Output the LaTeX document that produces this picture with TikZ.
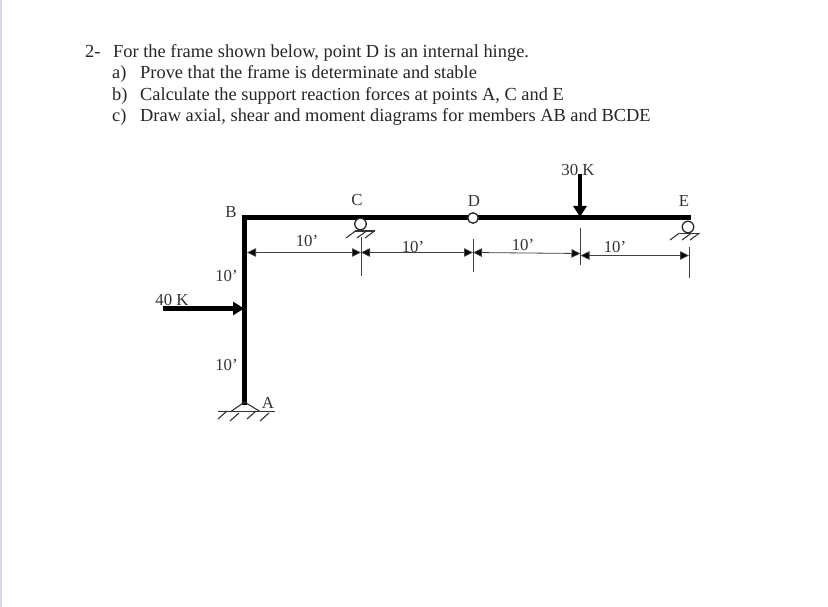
\documentclass[tikz,border=0pt]{standalone}
\usepackage{fontspec}
\setmainfont{Liberation Serif}
\usetikzlibrary{arrows.meta}
\tikzset{
	beam/.style={line width=5pt,line cap=rect,black},
	dimline/.style={line width=0.8pt,black!75,{Triangle[length=9pt,width=8.5pt,fill=black]}-{Triangle[length=9pt,width=8.5pt,fill=black]}},
	tickline/.style={line width=1pt,black!75},
	hatch/.style={line width=1.1pt,black!80},
	load/.style={line width=4.5pt,black,-{Triangle[length=11pt,width=13pt,inset=0pt]},shorten >=-1pt},
	hinge/.style={circle,draw=black!85,line width=1.3pt,fill=white,inner sep=0pt,minimum size=11.5pt},
	txt/.style={anchor=base west,inner sep=0pt,font=\fontsize{18.4}{20}\selectfont,black!85},
	lbl/.style={inner sep=0pt,font=\fontsize{16.8}{18}\selectfont,black!80}
}
\begin{document}
\begin{tikzpicture}[x=1pt,y=-1pt]
	\useasboundingbox (0,0) rectangle (828,607);
	\fill[white] (0,0) rectangle (828,607);
	\fill[blue!25!gray!25] (0,0) rectangle (2,607);
	% question text
	\node[txt] (q0) at (85,58) {2-};
	\node[txt] (q1) at (113,58) {For the frame shown below, point D is an internal hinge.};
	\node[txt] (qa0) at (112,79) {a)};
	\node[txt] (qa) at (140,79) {Prove that the frame is determinate and stable};
	\node[txt] (qb0) at (112,101) {b)};
	\node[txt] (qb) at (140,101) {Calculate the support reaction forces at points A, C and E};
	\node[txt] (qc0) at (112,122) {c)};
	\node[txt] (qc) at (140,122) {Draw axial, shear and moment diagrams for members AB and BCDE};
	% frame
	\coordinate (a) at (244.5,402);
	\coordinate (b) at (244.5,217.5);
	\coordinate (e) at (688,217.5);
	\draw[beam] (a) -- (b) -- (e);
	\node[hinge,minimum size=10.5pt] (d) at (473,218) {};
	% supports
	\coordinate (a1) at (231,411.5);
	\coordinate (a2) at (260,411.5);
	\draw[hatch] (a1) -- (a) -- (a2);
	\coordinate (g1) at (218,411.5);
	\coordinate (g2) at (275,411.5);
	\draw[hatch] (g1) -- (g2);
	\foreach \x/\y in {218/419,230/421,247/419,260/421}
		\draw[hatch] (\x,\y) -- ++(9,-8);
	\node[hinge] (c) at (360.5,224) {};
	\coordinate (c1) at (355,231);
	\coordinate (c2) at (375,231);
	\draw[hatch] (c1) -- (c2);
	\foreach \x/\y in {346/238,357/238,365/238}
		\draw[hatch] (\x,\y) -- ++(9.5,-7);
	\node[hinge] (hinge e) at (688,227) {};
	\coordinate (e1) at (680,233.5);
	\coordinate (e2) at (698,233.5);
	\draw[hatch] (e1) -- (e2);
	\foreach \x/\y in {670/240,682/240,690/240}
		\draw[hatch] (\x,\y) -- ++(9.5,-7);
	% loads
	\coordinate (p1) at (163,308.5);
	\coordinate (p2) at (243,308.5);
	\draw[load] (p1) -- (p2);
	\coordinate (w1) at (580,174);
	\coordinate (w2) at (580,216);
	\draw[load] (w1) -- (w2);
	% dimensions
	\coordinate (t1a) at (361,237);
	\coordinate (t1b) at (361,276);
	\coordinate (t2a) at (473,239);
	\coordinate (t2b) at (473,272);
	\coordinate (t3a) at (580.5,228);
	\coordinate (t3b) at (580.5,265);
	\coordinate (t4a) at (689,247);
	\coordinate (t4b) at (689,278);
	\draw[tickline] (t1a) -- (t1b);
	\draw[tickline] (t2a) -- (t2b);
	\draw[tickline] (t3a) -- (t3b);
	\draw[tickline] (t4a) -- (t4b);
	\coordinate (d0) at (247,252.5);
	\coordinate (d1) at (361,252.5);
	\coordinate (d2) at (473,252.5);
	\coordinate (d3) at (580.5,253.5);
	\coordinate (d4) at (580.5,255.5);
	\coordinate (d5) at (689,255.5);
	\draw[dimline] (d0) -- (d1);
	\draw[dimline] (d1) -- (d2);
	\draw[dimline] (d2) -- (d3);
	\draw[dimline] (d4) -- (d5);
	% labels
	\node[lbl] (lb) at (231,212.5) {B};
	\node[lbl] (lc) at (357,200.5) {C};
	\node[lbl] (ld) at (474,201.5) {D};
	\node[lbl] (le) at (684,201.5) {E};
	\node[lbl] (la) at (268,402.5) {A};
	\node[lbl] (l30) at (578,170) {30 K};
	\node[lbl] (l40) at (172,299.5) {40 K};
	\node[lbl] (s1) at (307,240.5) {10’};
	\node[lbl] (s2) at (413,246.5) {10’};
	\node[lbl] (s3) at (523,244.5) {10’};
	\node[lbl] (s4) at (615,246.5) {10’};
	\node[lbl] (s5) at (226.5,275.5) {10’};
	\node[lbl] (s6) at (226.5,364.5) {10’};
\end{tikzpicture}
\end{document}
